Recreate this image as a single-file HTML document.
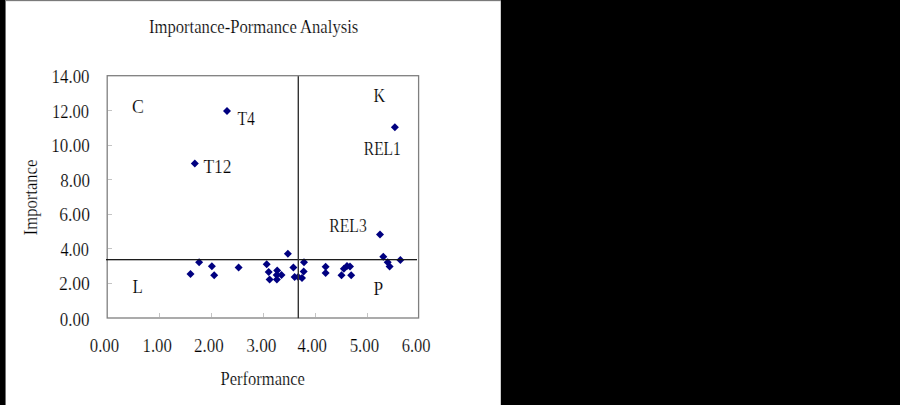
<!DOCTYPE html>
<html><head><meta charset="utf-8"><style>
html,body{margin:0;padding:0;background:#000;width:900px;height:405px;overflow:hidden}
svg{display:block}
</style></head><body>
<svg width="900" height="405" viewBox="0 0 900 405">
<rect x="5.55" y="0" width="495.25" height="405" fill="#fff"/>
<rect x="5" y="0" width="496" height="1.15" fill="#7a7a7a"/>
<rect x="107.2" y="75.7" width="311.4" height="242.3" fill="none" stroke="#7f7f7f" stroke-width="1.3"/>
<rect x="108" y="283" width="4" height="1" fill="#c4c4c4"/>
<rect x="108" y="248" width="4" height="1" fill="#c4c4c4"/>
<rect x="108" y="214" width="4" height="1" fill="#c4c4c4"/>
<rect x="108" y="179" width="4" height="1" fill="#c4c4c4"/>
<rect x="108" y="145" width="4" height="1" fill="#c4c4c4"/>
<rect x="108" y="110" width="4" height="1" fill="#c4c4c4"/>
<rect x="159" y="313" width="1" height="4" fill="#c4c4c4"/>
<rect x="211" y="313" width="1" height="4" fill="#c4c4c4"/>
<rect x="263" y="313" width="1" height="4" fill="#c4c4c4"/>
<rect x="315" y="313" width="1" height="4" fill="#c4c4c4"/>
<rect x="367" y="313" width="1" height="4" fill="#c4c4c4"/>
<path d="M227 107.1L231.0 111.1L227 115.1L223.0 111.1Z" fill="#000080"/>
<path d="M194.8 159.6L198.8 163.6L194.8 167.6L190.8 163.6Z" fill="#000080"/>
<path d="M394.9 123.3L398.9 127.3L394.9 131.3L390.9 127.3Z" fill="#000080"/>
<path d="M380 230.5L384.0 234.5L380 238.5L376.0 234.5Z" fill="#000080"/>
<path d="M190.5 270.0L194.5 274L190.5 278.0L186.5 274Z" fill="#000080"/>
<path d="M199.1 258.2L203.1 262.2L199.1 266.2L195.1 262.2Z" fill="#000080"/>
<path d="M211.9 262.3L215.9 266.3L211.9 270.3L207.9 266.3Z" fill="#000080"/>
<path d="M214.2 271.2L218.2 275.2L214.2 279.2L210.2 275.2Z" fill="#000080"/>
<path d="M238.6 263.4L242.6 267.4L238.6 271.4L234.6 267.4Z" fill="#000080"/>
<path d="M266.7 260.3L270.7 264.3L266.7 268.3L262.7 264.3Z" fill="#000080"/>
<path d="M268.7 267.9L272.7 271.9L268.7 275.9L264.7 271.9Z" fill="#000080"/>
<path d="M269.6 275.4L273.6 279.4L269.6 283.4L265.6 279.4Z" fill="#000080"/>
<path d="M277.2 266.4L281.2 270.4L277.2 274.4L273.2 270.4Z" fill="#000080"/>
<path d="M281.5 270.9L285.5 274.9L281.5 278.9L277.5 274.9Z" fill="#000080"/>
<path d="M276.9 275.4L280.9 279.4L276.9 283.4L272.9 279.4Z" fill="#000080"/>
<path d="M276.7 271.0L280.7 275L276.7 279.0L272.7 275Z" fill="#000080"/>
<path d="M287.9 249.7L291.9 253.7L287.9 257.7L283.9 253.7Z" fill="#000080"/>
<path d="M304 258.3L308.0 262.3L304 266.3L300.0 262.3Z" fill="#000080"/>
<path d="M293.4 263.6L297.4 267.6L293.4 271.6L289.4 267.6Z" fill="#000080"/>
<path d="M303.7 267.5L307.7 271.5L303.7 275.5L299.7 271.5Z" fill="#000080"/>
<path d="M294.6 273.1L298.6 277.1L294.6 281.1L290.6 277.1Z" fill="#000080"/>
<path d="M302 274.1L306.0 278.1L302 282.1L298.0 278.1Z" fill="#000080"/>
<path d="M325.6 262.8L329.6 266.8L325.6 270.8L321.6 266.8Z" fill="#000080"/>
<path d="M325.6 268.9L329.6 272.9L325.6 276.9L321.6 272.9Z" fill="#000080"/>
<path d="M343.9 264.8L347.9 268.8L343.9 272.8L339.9 268.8Z" fill="#000080"/>
<path d="M298.2 273.0L302.2 277L298.2 281.0L294.2 277Z" fill="#000080"/>
<path d="M347 262.0L351.0 266L347 270.0L343.0 266Z" fill="#000080"/>
<path d="M350 262.5L354.0 266.5L350 270.5L346.0 266.5Z" fill="#000080"/>
<path d="M341.5 271.3L345.5 275.3L341.5 279.3L337.5 275.3Z" fill="#000080"/>
<path d="M351.2 271.2L355.2 275.2L351.2 279.2L347.2 275.2Z" fill="#000080"/>
<path d="M383.3 252.7L387.3 256.7L383.3 260.7L379.3 256.7Z" fill="#000080"/>
<path d="M387.7 258.3L391.7 262.3L387.7 266.3L383.7 262.3Z" fill="#000080"/>
<path d="M389.6 262.5L393.6 266.5L389.6 270.5L385.6 266.5Z" fill="#000080"/>
<path d="M400.4 256.0L404.4 260L400.4 264.0L396.4 260Z" fill="#000080"/>
<rect x="106" y="259.05" width="311" height="1.25" fill="#111"/>
<rect x="297.6" y="76.2" width="1.4" height="242" fill="#333"/>
<g font-family="Liberation Serif" fill="#000" stroke="#fff" stroke-width="0.2">
<text x="148.90" y="32.70" font-size="18" textLength="209.40" lengthAdjust="spacingAndGlyphs">Importance-Pormance Analysis</text>
<text x="59.78" y="325.50" font-size="18.8" textLength="29.72" lengthAdjust="spacingAndGlyphs">0.00</text>
<text x="58.98" y="290.06" font-size="18.8" textLength="30.95" lengthAdjust="spacingAndGlyphs">2.00</text>
<text x="60.39" y="255.61" font-size="18.8" textLength="28.52" lengthAdjust="spacingAndGlyphs">4.00</text>
<text x="59.18" y="221.17" font-size="18.8" textLength="30.75" lengthAdjust="spacingAndGlyphs">6.00</text>
<text x="60.18" y="186.73" font-size="18.8" textLength="29.73" lengthAdjust="spacingAndGlyphs">8.00</text>
<text x="51.35" y="152.29" font-size="18.8" textLength="38.36" lengthAdjust="spacingAndGlyphs">10.00</text>
<text x="52.01" y="117.84" font-size="18.8" textLength="37.10" lengthAdjust="spacingAndGlyphs">12.00</text>
<text x="51.58" y="83.40" font-size="18.8" textLength="37.93" lengthAdjust="spacingAndGlyphs">14.00</text>
<text x="89.77" y="351.80" font-size="18.8" textLength="29.40" lengthAdjust="spacingAndGlyphs">0.00</text>
<text x="142.48" y="351.80" font-size="18.8" textLength="29.45" lengthAdjust="spacingAndGlyphs">1.00</text>
<text x="194.11" y="351.80" font-size="18.8" textLength="29.72" lengthAdjust="spacingAndGlyphs">2.00</text>
<text x="246.16" y="351.80" font-size="18.8" textLength="30.34" lengthAdjust="spacingAndGlyphs">3.00</text>
<text x="297.58" y="351.80" font-size="18.8" textLength="29.33" lengthAdjust="spacingAndGlyphs">4.00</text>
<text x="349.66" y="351.80" font-size="18.8" textLength="29.52" lengthAdjust="spacingAndGlyphs">5.00</text>
<text x="401.69" y="351.80" font-size="18.8" textLength="28.95" lengthAdjust="spacingAndGlyphs">6.00</text>
<text x="220.50" y="384.80" font-size="18" textLength="84.40" lengthAdjust="spacingAndGlyphs">Performance</text>
<text x="131.94" y="112.60" font-size="18" textLength="11.92" lengthAdjust="spacingAndGlyphs">C</text>
<text x="373.39" y="102.40" font-size="18" textLength="11.71" lengthAdjust="spacingAndGlyphs">K</text>
<text x="132.53" y="292.80" font-size="18" textLength="10.38" lengthAdjust="spacingAndGlyphs">L</text>
<text x="373.41" y="295.00" font-size="18" textLength="9.69" lengthAdjust="spacingAndGlyphs">P</text>
<text x="237.50" y="125.00" font-size="18" textLength="17.49" lengthAdjust="spacingAndGlyphs">T4</text>
<text x="203.45" y="172.80" font-size="18" textLength="28.09" lengthAdjust="spacingAndGlyphs">T12</text>
<text x="363.78" y="155.20" font-size="18" textLength="37.11" lengthAdjust="spacingAndGlyphs">REL1</text>
<text x="329.31" y="231.70" font-size="18" textLength="37.49" lengthAdjust="spacingAndGlyphs">REL3</text>
<text transform="translate(36.80,235.20) rotate(-90)" x="0" y="0" font-size="18" textLength="75.50" lengthAdjust="spacingAndGlyphs">Importance</text>
</g>
</svg>
</body></html>
